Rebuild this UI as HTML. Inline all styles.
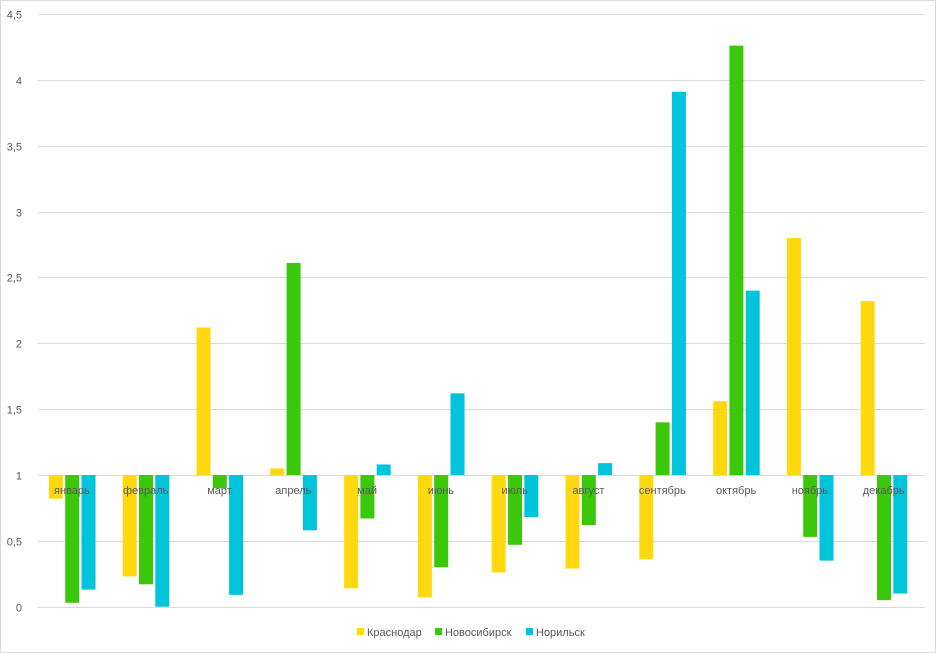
<!DOCTYPE html>
<html><head><meta charset="utf-8"><style>
body{margin:0;background:#fff;}
svg{display:block;font-family:"Liberation Sans",sans-serif;}
</style></head><body>
<svg width="936" height="653" viewBox="0 0 936 653" xmlns="http://www.w3.org/2000/svg">
<rect x="0.5" y="0.5" width="935" height="652" fill="#fff" stroke="#d9d9d9"/>
<g id="grid" stroke="#d9d9d9" stroke-width="1"></g>
<g id="ylab" font-size="11" fill="#595959" text-anchor="end"></g>
<g id="bars"></g>
<g id="xlab" font-size="11" fill="#595959" text-anchor="middle"></g>
<g font-size="11" fill="#595959">
<rect x="357" y="628" width="7" height="7" fill="#FFD80F"/><text x="367" y="636">Краснодар</text>
<rect x="435" y="628" width="7" height="7" fill="#3CC80A"/><text x="445" y="636">Новосибирск</text>
<rect x="526" y="628" width="7" height="7" fill="#00C3DC"/><text x="536" y="636">Норильск</text>
</g>
</svg>
<script>
const ns="http://www.w3.org/2000/svg";
const y0=606.7, k=131.7, x0=35, cw=73.8;
const Y=v=>y0-v*k;
function el(t,a,p,txt){const e=document.createElementNS(ns,t);for(const n in a)e.setAttribute(n,a[n]);if(txt!==undefined)e.textContent=txt;document.getElementById(p).appendChild(e);}
for(let i=0;i<=9;i++){const v=i*0.5,y=Math.round(Y(v))+0.5;
 el('line',{x1:38,x2:925,y1:y,y2:y},'grid');
 el('text',{x:22,y:y+4},'ylab',String(v).replace('.',','));}
const months=["январь","февраль","март","апрель","май","июнь","июль","август","сентябрь","октябрь","ноябрь","декабрь"];
const d=[[0.82,0.03,0.13],[0.23,0.17,0.0],[2.12,0.9,0.09],[1.05,2.61,0.58],[0.14,0.67,1.08],[0.07,0.3,1.62],[0.26,0.47,0.68],[0.29,0.62,1.09],[0.36,1.4,3.91],[1.56,4.26,2.4],[2.8,0.53,0.35],[2.32,0.05,0.1]];
const col=["#FFD80F","#3CC80A","#00C3DC"];
d.forEach((g,i)=>{const c=x0+cw*(i+0.5);
 g.forEach((v,j)=>{const x=c-23+j*16.3;const a=Y(v),b=Y(1);
  el('rect',{x:x,y:Math.min(a,b),width:14,height:Math.abs(a-b),fill:col[j]},'bars');});
 el('text',{x:c,y:494},'xlab',months[i]);});
</script>
</body></html>
